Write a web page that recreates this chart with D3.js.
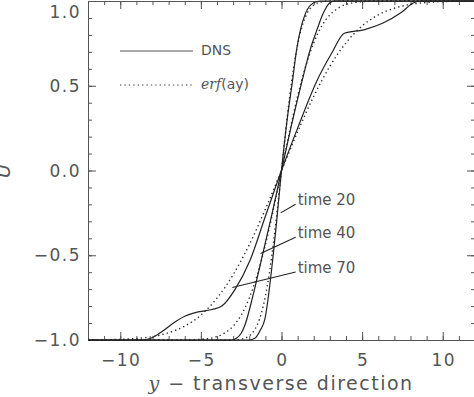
<!DOCTYPE html>
<html>
<head>
    <title>DNS vs erf</title>
    <script src="https://cdn.jsdelivr.net/npm/d3@7"></script>
    <style>
        body { margin: 0; background: #fff; }
        text { font-family: "DejaVu Sans", "Liberation Sans", sans-serif; fill: #555; }
    </style>
</head>
<body>
    <svg width="474" height="397" id="mainsvg"></svg>
    <script>
        // ---- data ----
        const xTicks = [-10, -5, 0, 5, 10];
        const yTicks = [-1.0, -0.5, 0.0, 0.5, 1.0];

        // DNS profiles [y, U]
        const dns20 = [[-12, -1], [-2.0, -1], [-1.65, -0.99], [-1.3, -0.94], [-1.04, -0.88], [-0.55, -0.53],
            [-0.3, -0.3], [0, 0], [0.35, 0.3], [0.67, 0.52], [0.95, 0.72], [1.2, 0.84], [1.5, 0.93],
            [2.0, 0.99], [2.4, 1], [12, 1]];
        const dns40 = [[-12, -1], [-3.1, -1], [-2.8, -0.99], [-2.5, -0.96], [-2.26, -0.91], [-1.8, -0.75],
            [-1.28, -0.54], [-0.6, -0.26], [0, 0], [0.6, 0.26], [1.28, 0.53], [1.8, 0.72], [2.2, 0.83],
            [2.6, 0.93], [3.0, 0.99], [3.3, 1], [12, 1]];
        const dns70 = [[-12, -1], [-8.6, -1], [-8.1, -0.99], [-7.4, -0.95], [-6.7, -0.9], [-6.0, -0.86],
            [-5.4, -0.84], [-4.3, -0.82], [-3.7, -0.8], [-2.87, -0.7], [-1.95, -0.53], [-1.0, -0.27],
            [0, 0], [1.0, 0.25], [2.2, 0.53], [3.1, 0.69], [3.9, 0.81], [5.1, 0.83], [6.3, 0.87],
            [7.4, 0.93], [8.2, 0.99], [8.6, 1], [12, 1]];

        // erf(ay) fits [y, U]
        const erf20 = [[-12, -1], [-3.0, -1], [-2.5, -0.995], [-2.0, -0.976], [-1.75, -0.952], [-1.5, -0.91],
            [-1.25, -0.843], [-1.0, -0.742], [-0.75, -0.604], [-0.5, -0.428], [-0.25, -0.223], [0, 0],
            [0.25, 0.223], [0.5, 0.428], [0.75, 0.604], [1.0, 0.742], [1.25, 0.843], [1.5, 0.91],
            [1.75, 0.952], [2.0, 0.976], [2.5, 0.995], [3.0, 1], [12, 1]];
        const erf40 = [[-12, -1], [-6.0, -1], [-5.0, -0.996], [-4.0, -0.98], [-3.5, -0.957], [-3.0, -0.918],
            [-2.5, -0.853], [-2.0, -0.753], [-1.5, -0.615], [-1.0, -0.438], [-0.5, -0.228], [0, 0],
            [0.5, 0.228], [1.0, 0.438], [1.5, 0.615], [2.0, 0.753], [2.5, 0.853], [3.0, 0.918],
            [3.5, 0.957], [4.0, 0.98], [5.0, 0.996], [6.0, 1], [12, 1]];
        const erf70 = [[-12, -1], [-11.5, -1], [-10, -0.996], [-9, -0.991], [-8, -0.98], [-7, -0.957],
            [-6, -0.918], [-5, -0.853], [-4, -0.753], [-3, -0.615], [-2, -0.438], [-1, -0.228], [0, 0],
            [1, 0.228], [2, 0.438], [3, 0.615], [4, 0.753], [5, 0.853], [6, 0.918], [7, 0.957],
            [8, 0.98], [9, 0.991], [10, 0.996], [11.5, 1], [12, 1]];

        const timeLabels = ['time 20', 'time 40', 'time 70'];
        // where each label's leader touches its curve [y, U]
        const leaderTargets = [[-0.05, -0.25], [-1.3, -0.49], [-3.05, -0.69]];
        const labelU = [-0.175, -0.37, -0.575];
        const legendNames = ['DNS', 'erf(ay)'];

        // ---- layout ----
        const svg = d3.select('#mainsvg');
        const margin = { top: 1, right: -1, bottom: 57, left: 88 };
        const width = +svg.attr('width');
        const height = +svg.attr('height');
        const innerWidth = width - margin.left - margin.right;
        const innerHeight = height - margin.top - margin.bottom;

        const g = svg.append('g').attr('transform', `translate(${margin.left}, ${margin.top})`);

        const xScale = d3.scaleLinear().domain([-12, 12]).range([0, innerWidth]);
        const yScale = d3.scaleLinear().domain([-1, 1]).range([innerHeight, 0]);

        const axisColor = '#555';
        const xMinor = d3.range(-12, 12.01, 1);
        const yMinor = d3.range(-1, 1.001, 0.1);

        // frame ticks: major 8px, minor 4px, all pointing inward
        const addTicks = function (axisGen, values, size, tr) {
            const a = g.append('g').attr('transform', tr)
                .call(axisGen.tickValues(values).tickSize(size).tickFormat(''));
            a.select('.domain').attr('stroke', axisColor);
            a.selectAll('.tick line').attr('stroke', axisColor);
            a.selectAll('.tick text').remove();
            return a;
        };
        addTicks(d3.axisTop(xScale), xMinor, 4, `translate(0, ${innerHeight})`);
        addTicks(d3.axisTop(xScale), xTicks, 8, `translate(0, ${innerHeight})`);
        addTicks(d3.axisBottom(xScale), xMinor, 4, 'translate(0, 0)');
        addTicks(d3.axisBottom(xScale), xTicks, 8, 'translate(0, 0)');
        addTicks(d3.axisRight(yScale), yMinor, 4, 'translate(0, 0)');
        addTicks(d3.axisRight(yScale), yTicks, 8, 'translate(0, 0)');
        addTicks(d3.axisLeft(yScale), yMinor, 4, `translate(${innerWidth}, 0)`);
        addTicks(d3.axisLeft(yScale), yTicks, 8, `translate(${innerWidth}, 0)`);

        // tick labels
        g.append('g').selectAll('text').data(xTicks).join('text')
            .attr('x', d => xScale(d) + 1).attr('y', innerHeight + 26)
            .attr('text-anchor', 'middle').attr('font-size', 17).attr('letter-spacing', 1.5)
            .text(d => d < 0 ? '\u2212' + Math.abs(d) : d);
        g.append('g').selectAll('text').data(yTicks).join('text')
            .attr('x', -7).attr('y', d => Math.max(yScale(d), 11))
            .attr('dy', '0.36em')
            .attr('text-anchor', 'end').attr('font-size', 17).attr('letter-spacing', 1.5)
            .text(d => (d < 0 ? '\u2212' : '') + Math.abs(d).toFixed(1));

        // axis titles
        const xt = svg.append('text').attr('x', 281).attr('y', 390)
            .attr('text-anchor', 'middle').attr('font-size', 19).attr('letter-spacing', 1.5);
        xt.append('tspan').attr('font-family', 'DejaVu Serif').attr('font-style', 'italic').text('y');
        xt.append('tspan').text(' \u2212 transverse direction');
        svg.append('text').attr('transform', 'translate(10, 171) rotate(-90)')
            .attr('text-anchor', 'middle').attr('font-size', 19)
            .attr('font-family', 'DejaVu Serif').attr('font-style', 'italic').text('U');

        // curves
        const line = d3.line()
            .x(d => xScale(d[0]))
            .y(d => yScale(d[1]))
            .curve(d3.curveMonotoneX);

        const plot = g.append('g');
        [erf20, erf40, erf70].forEach(data => {
            plot.append('path').datum(data)
                .attr('fill', 'none').attr('stroke', '#333')
                .attr('stroke-width', 1.4).attr('stroke-dasharray', '1.4,3')
                .attr('d', line);
        });
        [dns20, dns40, dns70].forEach(data => {
            plot.append('path').datum(data)
                .attr('fill', 'none').attr('stroke', '#222')
                .attr('stroke-width', 1.2)
                .attr('d', line);
        });

        // time labels with leaders
        const labelX = 1.0;
        timeLabels.forEach((t, i) => {
            g.append('line')
                .attr('x1', xScale(leaderTargets[i][0])).attr('y1', yScale(leaderTargets[i][1]))
                .attr('x2', xScale(labelX) - 2).attr('y2', yScale(labelU[i]) + 4)
                .attr('stroke', '#222').attr('stroke-width', 1.1);
            g.append('text').attr('x', xScale(labelX)).attr('y', yScale(labelU[i]))
                .attr('dy', '0.35em').attr('font-size', 15).text(t);
        });

        // legend
        const legend = svg.append('g').attr('transform', 'translate(120, 0)');
        legend.append('line').attr('x1', 0).attr('x2', 73).attr('y1', 51).attr('y2', 51)
            .attr('stroke', '#555').attr('stroke-width', 1.2);
        legend.append('text').attr('x', 81).attr('y', 50).attr('dy', '0.35em')
            .attr('font-size', 14).text(legendNames[0]);
        legend.append('line').attr('x1', 0).attr('x2', 73).attr('y1', 85).attr('y2', 85)
            .attr('stroke', '#444').attr('stroke-width', 1.1).attr('stroke-dasharray', '1.4,3');
        const lt = legend.append('text').attr('x', 81).attr('y', 84).attr('dy', '0.35em')
            .attr('font-size', 14);
        lt.append('tspan').attr('font-family', 'DejaVu Serif').attr('font-style', 'italic').text('erf');
        lt.append('tspan').text('(ay)');
    </script>
</body>
</html>
